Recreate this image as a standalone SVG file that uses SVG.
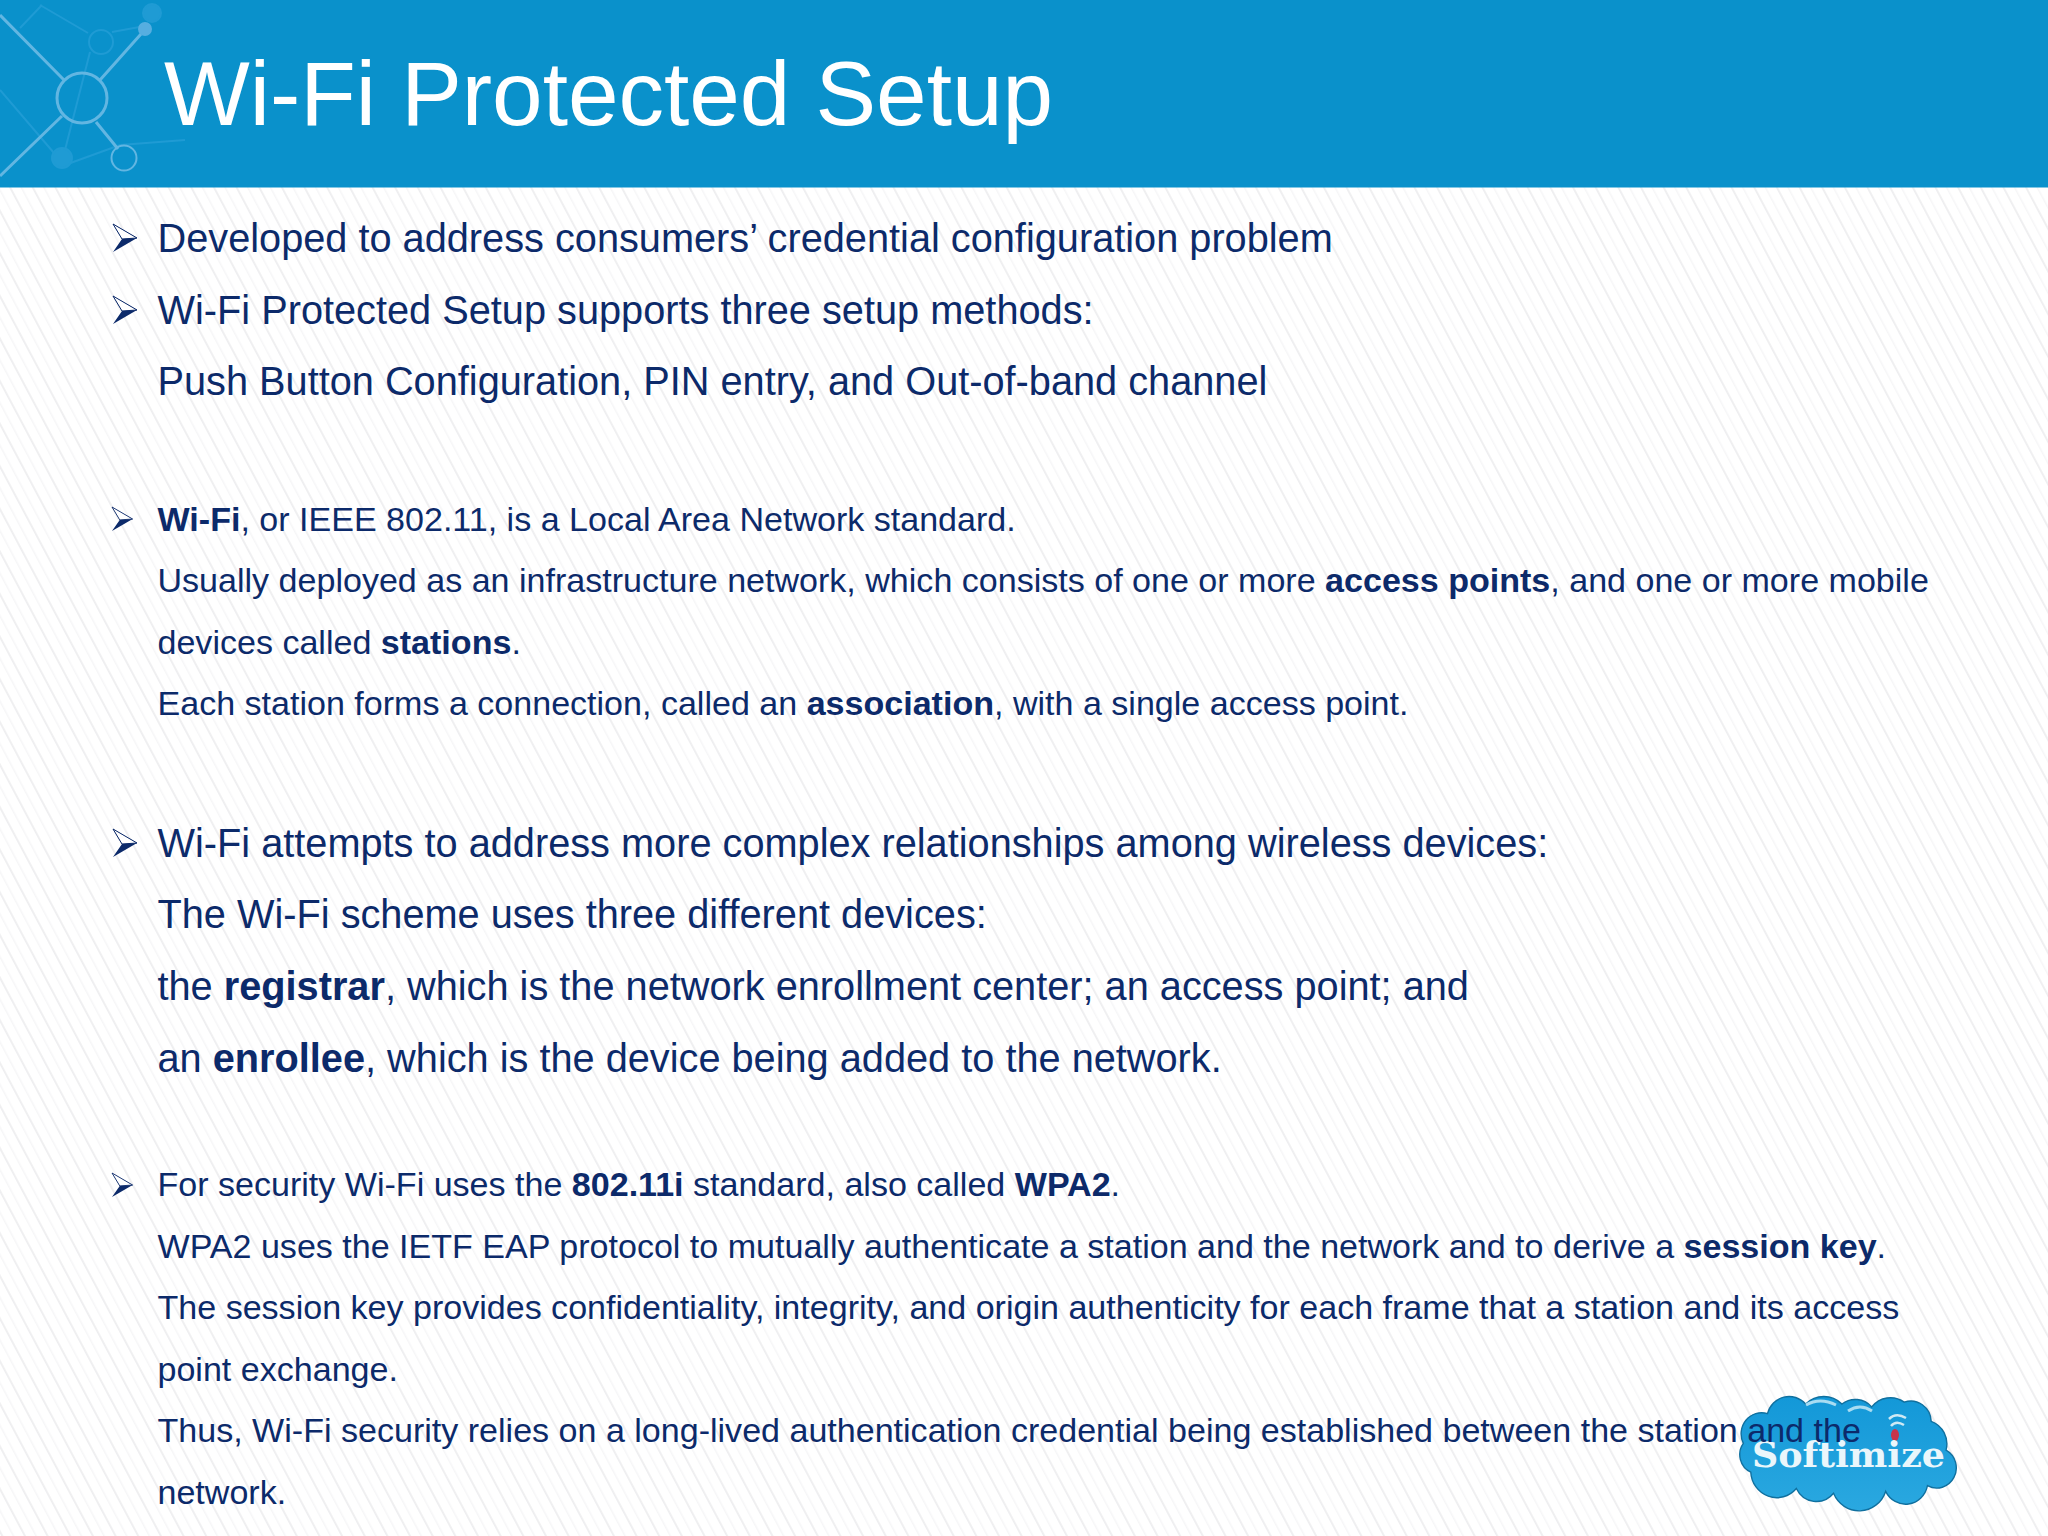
<svg xmlns="http://www.w3.org/2000/svg" width="2048" height="1536" viewBox="0 0 2048 1536">
<style>
text{font-family:"Liberation Sans",Arial,sans-serif;fill:#0c2a6a}
.l{font-size:39.72px}
.s{font-size:34.05px}
.b{font-weight:700}
.w{fill:none;stroke:#62b6e2;stroke-width:3}
.f{fill:none;stroke:#1f9bd4;stroke-width:2}
</style>
<defs>
<pattern id="hatch" width="20" height="20" patternUnits="userSpaceOnUse" patternTransform="rotate(-28)">
<rect width="20" height="20" fill="#fff"/>
<rect x="0" width="1.800" height="20" fill="#eeeef0"/>
<rect x="10" width="1.500" height="20" fill="#f6f6f7"/>
</pattern>
<linearGradient id="cloud" x1="0" y1="0" x2="0" y2="1"><stop offset="0" stop-color="#1398d8"/><stop offset="1" stop-color="#2aa8e0"/></linearGradient>
<g id="bullet"><path d="M0 0L24 14 0 28 9 15Z" fill="#0c2a6a"/><path d="M0 0L24 14 9 15Z" fill="#fff" stroke="#0c2a6a" stroke-width="1"/></g>
</defs>
<rect width="2048" height="1536" fill="url(#hatch)"/>
<g id="header">
<rect width="2048" height="187.500" fill="#0a91cb"/>
<g class="f"><circle cx="101" cy="42" r="12"/><path d="M40 5L88 33M112 32L145 26M42 5L20 28M0 90L60 160M65 165L120 145L185 140M90 52L65 150"/><circle cx="62" cy="158" r="10" fill="#1f9bd4"/><circle cx="152" cy="13" r="9" fill="#1f9bd4"/></g>
<path class="w" d="M0 15L64 80M100 80L141 34M62 116L0 176M96 122L118 149"/>
<circle class="w" cx="82" cy="98" r="25"/>
<circle class="w" cx="124" cy="158" r="12.500" style="stroke-width:2"/>
<circle cx="145" cy="29" r="7" fill="#56aee0"/>
<text x="164" y="125" font-size="90.900" style="fill:#fff">Wi-Fi Protected Setup</text>
</g>
<g id="logo">
<path transform="translate(1847.500 1453) scale(.93 .96) translate(-1851 -1458)" d="M1747 1478A20 20 0 0 1 1739 1448A22 22 0 0 1 1765 1417A24 24 0 0 1 1806 1407A28 28 0 0 1 1845 1407A24 24 0 0 1 1877 1410A26 26 0 0 1 1912 1405A22 22 0 0 1 1941 1425A25 25 0 0 1 1957 1455A20 20 0 0 1 1937 1492A24 24 0 0 1 1892 1498A30 30 0 0 1 1836 1500A24 24 0 0 1 1796 1495A28 28 0 0 1 1747 1478Z" fill="url(#cloud)" stroke="#10709f" stroke-width="1.500"/>
<path d="M1806 1405Q1820 1397 1836 1405M1848 1411Q1860 1403 1872 1411" fill="none" stroke="#a8dcf2" stroke-width="3"/>
<path d="M1889 1419Q1896 1412 1906 1418M1891 1426Q1896 1420 1904 1425" fill="none" stroke="#cfe9f4" stroke-width="2.500"/>
<ellipse cx="1895" cy="1435" rx="4" ry="6" fill="#c8354a"/>
<text x="1752" y="1467" font-size="36" font-weight="700" style="font-family:'DejaVu Serif',serif;fill:#eaf6fb" textLength="193" lengthAdjust="spacingAndGlyphs">Softimize</text>
</g>
<g id="bullets">
<use href="#bullet" x="113" y="224"/>
<use href="#bullet" x="113" y="296"/>
<use href="#bullet" transform="translate(112 507) scale(.86)"/>
<use href="#bullet" x="113" y="829"/>
<use href="#bullet" transform="translate(112 1173) scale(.86)"/>
</g>
<g id="body">
<text class="l" x="157.500" y="252">Developed to address consumers’ credential configuration problem</text>
<text class="l" x="157.500" y="323.500">Wi-Fi Protected Setup supports three setup methods:</text>
<text class="l" x="157.500" y="395">Push Button Configuration, PIN entry, and Out-of-band channel</text>
<text class="s" x="157.500" y="530.500"><tspan class="b">Wi-Fi</tspan>, or IEEE 802.11, is a Local Area Network standard.</text>
<text class="s" x="157.500" y="592">Usually deployed as an infrastructure network, which consists of one or more <tspan class="b">access points</tspan>, and one or more mobile</text>
<text class="s" x="157.500" y="653.500">devices called <tspan class="b">stations</tspan>.</text>
<text class="s" x="157.500" y="715">Each station forms a connection, called an <tspan class="b">association</tspan>, with a single access point.</text>
<text class="l" x="157.500" y="857">Wi-Fi attempts to address more complex relationships among wireless devices:</text>
<text class="l" x="157.500" y="928">The Wi-Fi scheme uses three different devices:</text>
<text class="l" x="157.500" y="1000">the <tspan class="b">registrar</tspan>, which is the network enrollment center; an access point; and</text>
<text class="l" x="157.500" y="1071.500">an <tspan class="b">enrollee</tspan>, which is the device being added to the network.</text>
<text class="s" x="157.500" y="1196">For security Wi-Fi uses the <tspan class="b">802.11i</tspan> standard, also called <tspan class="b">WPA2</tspan>.</text>
<text class="s" x="157.500" y="1258">WPA2 uses the IETF EAP protocol to mutually authenticate a station and the network and to derive a <tspan class="b">session key</tspan>.</text>
<text class="s" x="157.500" y="1319">The session key provides confidentiality, integrity, and origin authenticity for each frame that a station and its access</text>
<text class="s" x="157.500" y="1381">point exchange.</text>
<text class="s" x="157.500" y="1442">Thus, Wi-Fi security relies on a long-lived authentication credential being established between the station and the</text>
<text class="s" x="157.500" y="1504">network.</text>
</g>
</svg>
